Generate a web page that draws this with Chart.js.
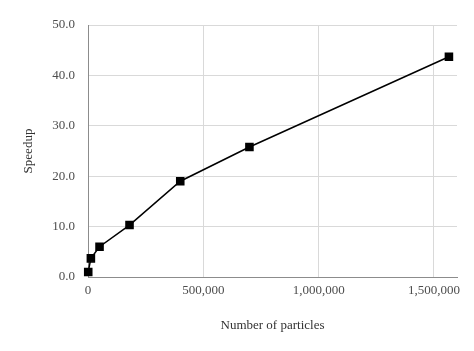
<!DOCTYPE html>
<html>
<head>
<meta charset="utf-8">
<script src="https://cdn.jsdelivr.net/npm/chart.js@4"></script>
<style>
  html, body { margin: 0; padding: 0; background: #fff; }
  #wrap { width: 474px; height: 351px; }
</style>
</head>
<body>
<div id="wrap"><canvas id="myChart"></canvas></div>
<script>
// data
let particles = [1000, 12500, 50000, 180000, 400000, 700000, 1565000];
let speedup = [1.0, 3.7, 6.0, 10.3, 19.0, 25.8, 43.7];
let xTicks = [0, 500000, 1000000, 1500000];

let serif = "'Liberation Serif', 'Times New Roman', serif";

let ctx = document.getElementById("myChart").getContext("2d");

let lineChart = new Chart(ctx, {
  type: "line",
  data: {
    datasets: [
      {
        label: "Speedup",
        data: particles.map((p, i) => ({ x: p, y: speedup[i] })),
        borderColor: "#000000",
        backgroundColor: "#000000",
        borderWidth: 1.5,
        pointStyle: "rect",
        pointRadius: 5,
        pointHoverRadius: 5,
        tension: 0,
        clip: false,
      },
    ],
  },
  options: {
    responsive: true,
    maintainAspectRatio: false,
    animation: false,
    layout: { padding: { top: 25, right: 17, left: 0, bottom: 0 } },
    plugins: {
      legend: { display: false },
      tooltip: { enabled: false },
    },
    scales: {
      x: {
        type: "linear",
        min: 0,
        max: 1600000,
        afterBuildTicks: (scale) => {
          scale.ticks = xTicks.map((v) => ({ value: v }));
        },
        afterFit: (scale) => {
          scale.height = 74;
        },
        grid: { color: "#d9d9d9", drawTicks: false },
        border: { color: "#8c8c8c", width: 1 },
        ticks: {
          padding: 6,
          color: "#4d4d4d",
          font: { family: serif, size: 13 },
          callback: (v) => v.toLocaleString("en-US"),
        },
        title: {
          display: true,
          text: "Number of particles",
          color: "#333333",
          font: { family: serif, size: 13 },
          padding: { top: 4, bottom: 18 },
        },
      },
      y: {
        min: 0,
        max: 50,
        afterFit: (scale) => {
          scale.width = 88;
        },
        grid: { color: "#d9d9d9", drawTicks: false },
        border: { color: "#8c8c8c", width: 1 },
        ticks: {
          stepSize: 10,
          padding: 13,
          color: "#4d4d4d",
          font: { family: serif, size: 13 },
          callback: (v) => v.toFixed(1),
        },
        title: {
          display: true,
          text: "Speedup",
          color: "#333333",
          font: { family: serif, size: 13 },
          padding: { top: 21, bottom: 4 },
        },
      },
    },
  },
});
</script>
</body>
</html>
